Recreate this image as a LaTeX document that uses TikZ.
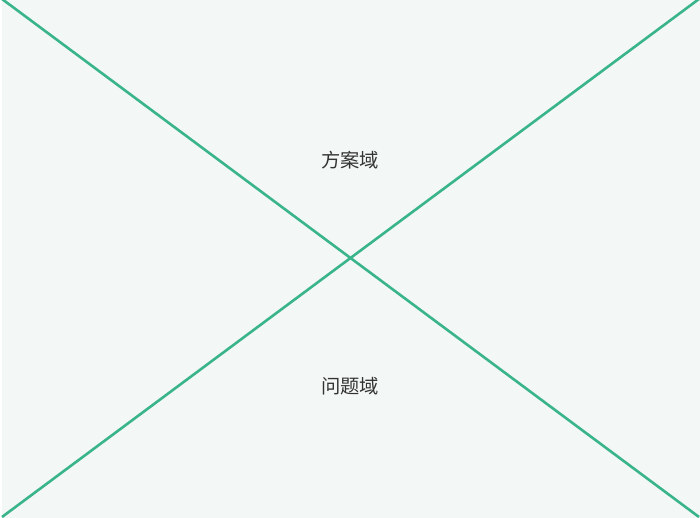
\documentclass[tikz,border=0pt]{standalone}
\usepackage{fontspec}
\newfontfamily\cjk{Noto Sans CJK SC}
\usetikzlibrary{positioning}
\definecolor{bgpale}{HTML}{F3F8F6}
\definecolor{xgreen}{HTML}{3AB48B}
\definecolor{txtgray}{HTML}{333333}

\begin{document}
\begin{tikzpicture}
            [x=1pt, y=1pt,
              diag/.style={xgreen, line width=2.6pt},
              lbl/.style={font=\cjk\fontsize{19.3}{21}\selectfont, text=txtgray,
                inner sep=0pt}]
            \useasboundingbox (0, 0) rectangle (700, 518);
            \fill[white] (0, 0) rectangle (700, 518);
            \fill[bgpale] (2, 0) rectangle (700, 518);
            \coordinate (tl) at (2, 519);
            \coordinate (tr) at (699, 519);
            \coordinate (bl) at (2, 1);
            \coordinate (br) at (699, 1);
            \node[lbl] (sol) at (350, 358) {方案域};
            \node[lbl] (prob) at (350, 132) {问题域};
            \draw[diag] (tl) to (br);
            \draw[diag] (bl) to (tr);
        \end{tikzpicture}
\end{document}
